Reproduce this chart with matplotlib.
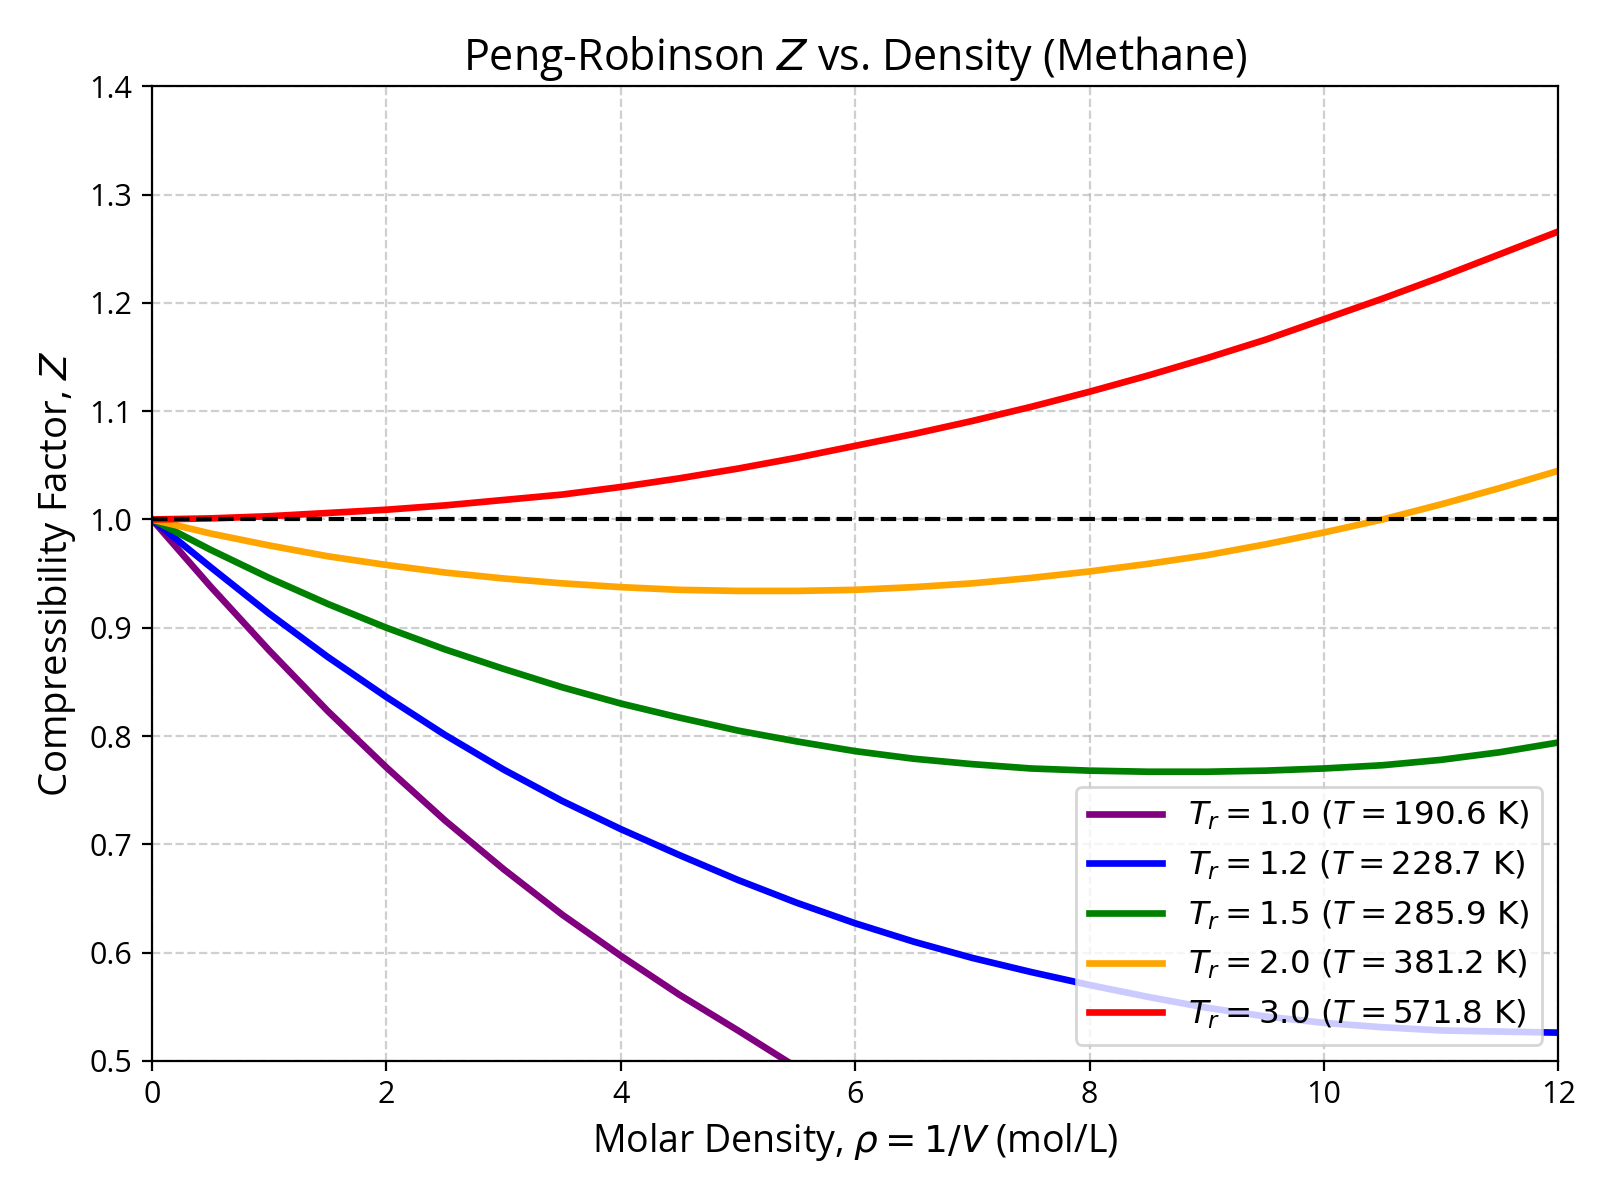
import matplotlib
matplotlib.use("Agg")
import matplotlib.pyplot as plt

# Values (Z at each molar density, mol/L)
rho = [0.0, 0.5, 1.0, 1.5, 2.0, 2.5, 3.0, 3.5, 4.0, 4.5, 5.0, 5.5, 6.0,
       6.5, 7.0, 7.5, 8.0, 8.5, 9.0, 9.5, 10.0, 10.5, 11.0, 11.5, 12.0]

z_tr10 = [1.000, 0.938, 0.879, 0.823, 0.771, 0.722, 0.677, 0.635, 0.597,
          0.561, 0.528, 0.494, 0.461]
z_tr12 = [1.000, 0.956, 0.913, 0.873, 0.836, 0.801, 0.769, 0.740, 0.714,
          0.690, 0.667, 0.646, 0.627, 0.610, 0.595, 0.582, 0.570, 0.559,
          0.549, 0.541, 0.535, 0.531, 0.528, 0.527, 0.526]
z_tr15 = [1.000, 0.972, 0.946, 0.922, 0.900, 0.880, 0.862, 0.845, 0.830,
          0.817, 0.805, 0.795, 0.786, 0.779, 0.774, 0.770, 0.768, 0.767,
          0.767, 0.768, 0.770, 0.773, 0.778, 0.785, 0.794]
z_tr20 = [1.000, 0.987, 0.976, 0.966, 0.958, 0.951, 0.9455, 0.941, 0.9375,
          0.935, 0.934, 0.934, 0.935, 0.9375, 0.941, 0.946, 0.952, 0.959,
          0.967, 0.977, 0.988, 1.000, 1.014, 1.029, 1.045]
z_tr30 = [1.000, 1.001, 1.003, 1.006, 1.009, 1.013, 1.018, 1.023, 1.030,
          1.038, 1.047, 1.057, 1.068, 1.079, 1.091, 1.104, 1.118, 1.133,
          1.149, 1.166, 1.185, 1.204, 1.224, 1.245, 1.266]

series = [
    (z_tr10, "purple", r"$T_r = 1.0\ (T = 190.6\ \mathrm{K})$"),
    (z_tr12, "blue", r"$T_r = 1.2\ (T = 228.7\ \mathrm{K})$"),
    (z_tr15, "green", r"$T_r = 1.5\ (T = 285.9\ \mathrm{K})$"),
    (z_tr20, "orange", r"$T_r = 2.0\ (T = 381.2\ \mathrm{K})$"),
    (z_tr30, "red", r"$T_r = 3.0\ (T = 571.8\ \mathrm{K})$"),
]

plt.rcParams['font.family'] = ['Open Sans', 'DejaVu Sans']
plt.rcParams['mathtext.fontset'] = 'dejavusans'

fig, ax = plt.subplots(figsize=(8, 6), dpi=200)
fig.subplots_adjust(left=0.095, right=0.974, top=0.928, bottom=0.116)

for z, color, label in series:
    ax.plot(rho[:len(z)], z, color=color, lw=2.4, label=label)

ax.axhline(1.0, color='black', linestyle='--', lw=1.5)

ax.set_xlim(0, 12)
ax.set_ylim(0.5, 1.4)
ax.set_xlabel(r"Molar Density, $\rho = 1/V$ (mol/L)", fontsize=13.5)
ax.set_ylabel(r"Compressibility Factor, $Z$", fontsize=13.8)
ax.set_title(r"Peng-Robinson $Z$ vs. Density (Methane)", fontsize=15.5)
ax.tick_params(labelsize=11)
ax.grid(True, linestyle='--', alpha=0.6)
ax.legend(loc='lower right', fontsize=11.7, handlelength=2.25)

fig.savefig("out.png", dpi=200)
